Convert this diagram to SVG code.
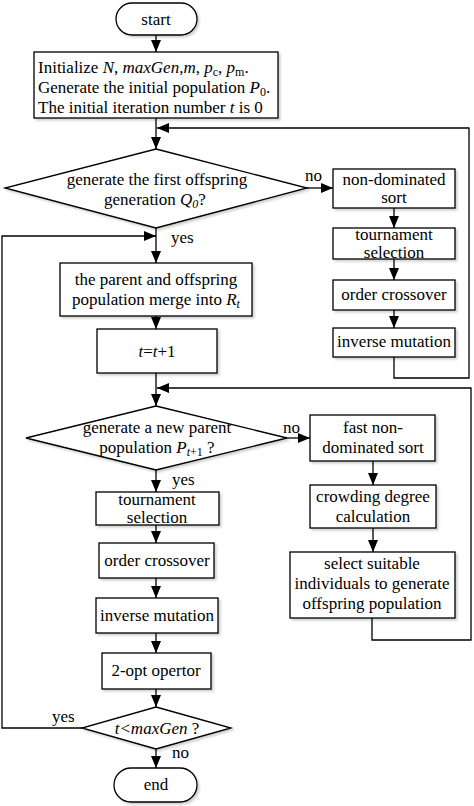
<svg xmlns="http://www.w3.org/2000/svg" width="474" height="806" viewBox="0 0 474 806">
<defs>
<marker id="arr" viewBox="0 0 12 10" refX="12" refY="5" markerWidth="12" markerHeight="10" orient="auto" markerUnits="userSpaceOnUse"><path d="M0,0 L12,5 L0,10 z" fill="#000"/></marker>
<filter id="sh" x="-5%" y="-5%" width="115%" height="125%"><feDropShadow dx="2" dy="2" stdDeviation="1" flood-color="#000" flood-opacity="0.18"/></filter>
</defs>
<style>
.s{fill:#fff;stroke:#000;stroke-width:1.3;filter:url(#sh)}
.c{fill:none;stroke:#000;stroke-width:1.3}
.t{font-family:"Liberation Serif","Times New Roman",serif;font-size:17px;fill:#000}
.m{text-anchor:middle}
.i{font-style:italic}
</style>
<rect width="474" height="806" fill="#fff"/>
<g id="connectors">
<path class="c" d="M156,35 V52" marker-end="url(#arr)"/>
<path class="c" d="M156,118 V149" marker-end="url(#arr)"/>
<path class="c" d="M394,357 V378 H469 V128 H157" marker-end="url(#arr)"/>
<path class="c" d="M307,188 H333" marker-end="url(#arr)"/>
<path class="c" d="M394,208 V228" marker-end="url(#arr)"/>
<path class="c" d="M394,259 V280" marker-end="url(#arr)"/>
<path class="c" d="M394,310 V328" marker-end="url(#arr)"/>
<path class="c" d="M156,228 V263" marker-end="url(#arr)"/>
<path class="c" d="M82,728 H2 V236 H156" marker-end="url(#arr)"/>
<path class="c" d="M156,316 V329" marker-end="url(#arr)"/>
<path class="c" d="M156,373 V406" marker-end="url(#arr)"/>
<path class="c" d="M372,618 V640 H471 V388 H157" marker-end="url(#arr)"/>
<path class="c" d="M287,438 H310" marker-end="url(#arr)"/>
<path class="c" d="M373,461 V485" marker-end="url(#arr)"/>
<path class="c" d="M373,528 V552" marker-end="url(#arr)"/>
<path class="c" d="M156,470 V492" marker-end="url(#arr)"/>
<path class="c" d="M156,525 V543" marker-end="url(#arr)"/>
<path class="c" d="M156,578 V598" marker-end="url(#arr)"/>
<path class="c" d="M156,633 V653" marker-end="url(#arr)"/>
<path class="c" d="M156,689 V707" marker-end="url(#arr)"/>
<path class="c" d="M156,749 V768" marker-end="url(#arr)"/>
<text class="t" x="305" y="181">no</text>
<text class="t" x="171" y="243">yes</text>
<text class="t" x="283" y="433">no</text>
<text class="t" x="172" y="485">yes</text>
<text class="t" x="52" y="722">yes</text>
<text class="t" x="172" y="758">no</text>
</g>
<g id="start">
<rect class="s" x="116" y="3" width="81" height="32" rx="16"/>
<text class="t m" x="156" y="25">start</text>
</g>
<g id="init">
<rect class="s" x="34" y="52" width="244" height="66"/>
<text class="t" x="38" y="73">Initialize <tspan class="i">N</tspan>, <tspan class="i">maxGen</tspan>,<tspan class="i">m</tspan>, <tspan class="i">p</tspan><tspan font-size="12" dy="3">c</tspan><tspan dy="-3">, </tspan><tspan class="i">p</tspan><tspan font-size="12" dy="3">m</tspan><tspan dy="-3">.</tspan></text>
<text class="t" x="38" y="93">Generate the initial population <tspan class="i">P</tspan><tspan font-size="12" dy="3">0</tspan><tspan dy="-3">.</tspan></text>
<text class="t" x="38" y="113">The initial iteration number <tspan class="i">t</tspan> is 0</text>
</g>
<g id="d1">
<polygon class="s" points="156,149 307,188 156,228 5,188"/>
<text class="t m" x="157" y="185">generate the first offspring</text>
<text class="t m" x="155" y="205">generation <tspan class="i">Q</tspan><tspan class="i" font-size="12" dy="3">0</tspan><tspan dy="-3">?</tspan></text>
</g>
<g id="nds">
<rect class="s" x="333" y="169" width="122" height="39"/>
<text class="t m" x="394" y="185">non-dominated</text>
<text class="t m" x="394" y="203">sort</text>
</g>
<g id="ts1">
<rect class="s" x="333" y="228" width="122" height="31"/>
<text class="t m" x="394" y="240">tournament</text>
<text class="t m" x="394" y="258">selection</text>
</g>
<g id="oc1">
<rect class="s" x="333" y="280" width="122" height="30"/>
<text class="t m" x="394" y="300">order crossover</text>
</g>
<g id="im1">
<rect class="s" x="333" y="328" width="122" height="29"/>
<text class="t m" x="394" y="347">inverse mutation</text>
</g>
<g id="merge">
<rect class="s" x="60" y="263" width="192" height="53"/>
<text class="t m" x="156" y="285">the parent and offspring</text>
<text class="t m" x="156" y="305">population merge into <tspan class="i">R</tspan><tspan class="i" font-size="12" dy="3">t</tspan></text>
</g>
<g id="tinc">
<rect class="s" x="97" y="329" width="120" height="44"/>
<text class="t m" x="157" y="357"><tspan class="i">t</tspan>=<tspan class="i">t</tspan>+1</text>
</g>
<g id="d2">
<polygon class="s" points="156,406 287,438 156,470 26,438"/>
<text class="t m" x="157" y="433">generate a new parent</text>
<text class="t m" x="157" y="453">population <tspan class="i">P</tspan><tspan font-size="12" dy="3"><tspan class="i">t</tspan>+1</tspan><tspan dy="-3"> ?</tspan></text>
</g>
<g id="fnds">
<rect class="s" x="310" y="415" width="125" height="46"/>
<text class="t m" x="373" y="433">fast non-</text>
<text class="t m" x="373" y="453">dominated sort</text>
</g>
<g id="crowd">
<rect class="s" x="310" y="485" width="126" height="43"/>
<text class="t m" x="373" y="502">crowding degree</text>
<text class="t m" x="373" y="522">calculation</text>
</g>
<g id="select">
<rect class="s" x="290" y="552" width="165" height="66"/>
<text class="t m" x="372" y="569">select suitable</text>
<text class="t m" x="372" y="589">individuals to generate</text>
<text class="t m" x="372" y="609">offspring population</text>
</g>
<g id="ts2">
<rect class="s" x="96" y="492" width="123" height="33"/>
<text class="t m" x="157" y="505">tournament</text>
<text class="t m" x="157" y="523">selection</text>
</g>
<g id="oc2">
<rect class="s" x="99" y="543" width="115" height="35"/>
<text class="t m" x="157" y="566">order crossover</text>
</g>
<g id="im2">
<rect class="s" x="96" y="598" width="122" height="35"/>
<text class="t m" x="157" y="621">inverse mutation</text>
</g>
<g id="opt">
<rect class="s" x="102" y="653" width="109" height="36"/>
<text class="t m" x="156" y="676">2-opt opertor</text>
</g>
<g id="d3">
<polygon class="s" points="156,707 231,728 156,749 82,728"/>
<text class="t m i" x="157" y="734">t&lt;maxGen<tspan font-style="normal"> ?</tspan></text>
</g>
<g id="end">
<rect class="s" x="114" y="768" width="83" height="34" rx="17"/>
<text class="t m" x="156" y="790">end</text>
</g>
</svg>
